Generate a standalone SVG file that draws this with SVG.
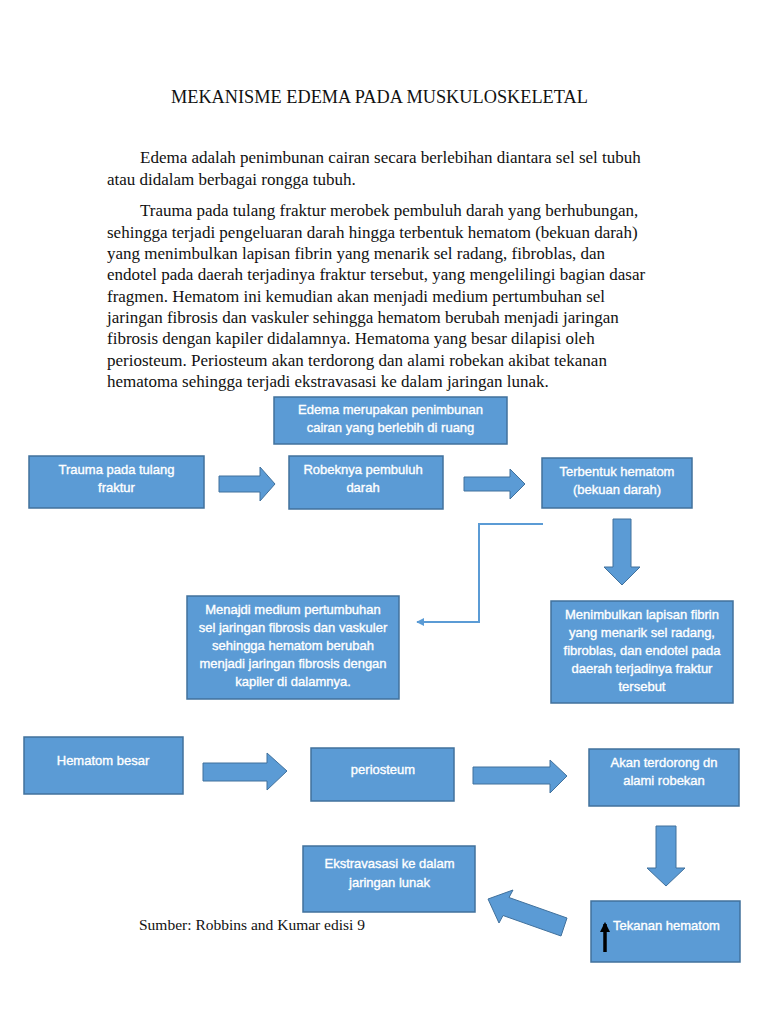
<svg xmlns="http://www.w3.org/2000/svg" width="768" height="1024" viewBox="0 0 768 1024">
<defs>
<style>
.doc{font-family:"Liberation Serif","Times New Roman",serif;font-size:17px;fill:#111}
.box{fill:#5b9bd5;stroke:#41719c;stroke-width:1.5}
.lbl{font-family:"Liberation Sans",Arial,sans-serif;font-size:13px;fill:#ffffff;stroke:#ffffff;stroke-width:0.35;text-anchor:middle}
.blk{fill:#5b9bd5;stroke:#41719c;stroke-width:1}
.elbow{fill:none;stroke:#5b9bd5;stroke-width:2}
</style>
<marker id="ah" viewBox="0 0 10 10" refX="9" refY="5" markerWidth="4" markerHeight="4" orient="auto">
<path d="M0,0 L10,5 L0,10 Z" fill="#5b9bd5"/>
</marker>
<marker id="bh" viewBox="0 0 10 10" refX="8" refY="5" markerWidth="3" markerHeight="3" orient="auto">
<path d="M0,0 L10,5 L0,10 Z" fill="#000"/>
</marker>
</defs>
<rect width="768" height="1024" fill="#ffffff"/>

<g id="document-text">
<text class="doc" x="171" y="103" style="font-size:18.3px">MEKANISME EDEMA PADA MUSKULOSKELETAL</text>
<text class="doc" x="140" y="163">Edema adalah penimbunan cairan secara berlebihan diantara sel sel tubuh</text>
<text class="doc" x="107" y="185">atau didalam berbagai rongga tubuh.</text>
<text class="doc" x="140" y="216">Trauma pada tulang fraktur merobek pembuluh darah yang berhubungan,</text>
<text class="doc" x="107" y="237.5">sehingga terjadi pengeluaran darah hingga terbentuk hematom (bekuan darah)</text>
<text class="doc" x="107" y="259">yang menimbulkan lapisan fibrin yang menarik sel radang, fibroblas, dan</text>
<text class="doc" x="107" y="280">endotel pada daerah terjadinya fraktur tersebut, yang mengelilingi bagian dasar</text>
<text class="doc" x="107" y="301.5">fragmen. Hematom ini kemudian akan menjadi medium pertumbuhan sel</text>
<text class="doc" x="107" y="323">jaringan fibrosis dan vaskuler sehingga hematom berubah menjadi jaringan</text>
<text class="doc" x="107" y="344">fibrosis dengan kapiler didalamnya. Hematoma yang besar dilapisi oleh</text>
<text class="doc" x="107" y="365.5">periosteum. Periosteum akan terdorong dan alami robekan akibat tekanan</text>
<text class="doc" x="107" y="387">hematoma sehingga terjadi ekstravasasi ke dalam jaringan lunak.</text>
<text class="doc" x="139" y="930" style="font-size:15.5px">Sumber: Robbins and Kumar edisi 9</text>
</g>

<g id="connectors">
<polygon class="blk" points="219,476 260,476 260,467 275,484 260,501 260,492 219,492"/>
<polygon class="blk" points="464,477 510,477 510,469 525,484 510,499 510,491 464,491"/>
<polygon class="blk" points="613,519 631,519 631,567 640,567 622,585 604,567 613,567"/>
<path class="elbow" d="M543,524 H479 V622 H417" marker-end="url(#ah)"/>
<polygon class="blk" points="203,763 267,763 267,753 287,771 267,790 267,781 203,781"/>
<polygon class="blk" points="473,767 550,767 550,760 567,776 550,793 550,784 473,784"/>
<polygon class="blk" points="656,826 676,826 676,868 685,868 666,886 647,868 656,868"/>
<polygon class="blk" points="488,899 513,890 509,897.5 567,918 561,936 503,915.5 499,923"/>
</g>

<g id="node-edema">
<rect class="box" x="274" y="397" width="233" height="47"/>
<text class="lbl" x="390.5" y="414">Edema merupakan penimbunan</text>
<text class="lbl" x="390.5" y="432">cairan yang berlebih di ruang</text>
</g>

<g id="node-trauma">
<rect class="box" x="29" y="456" width="175" height="52"/>
<text class="lbl" x="116.5" y="474">Trauma pada tulang</text>
<text class="lbl" x="116.5" y="492">fraktur</text>
</g>

<g id="node-robeknya">
<rect class="box" x="289" y="456" width="154" height="53"/>
<text class="lbl" x="363" y="474">Robeknya pembuluh</text>
<text class="lbl" x="363" y="492">darah</text>
</g>

<g id="node-terbentuk">
<rect class="box" x="542" y="458" width="150" height="50"/>
<text class="lbl" x="617" y="476">Terbentuk hematom</text>
<text class="lbl" x="617" y="494">(bekuan darah)</text>
</g>

<g id="node-menjadi">
<rect class="box" x="187" y="596" width="212" height="103"/>
<text class="lbl" x="293" y="614">Menajdi medium pertumbuhan</text>
<text class="lbl" x="293" y="632">sel jaringan fibrosis dan vaskuler</text>
<text class="lbl" x="293" y="650">sehingga hematom berubah</text>
<text class="lbl" x="293" y="668">menjadi jaringan fibrosis dengan</text>
<text class="lbl" x="293" y="686">kapiler di dalamnya.</text>
</g>

<g id="node-menimbulkan">
<rect class="box" x="551" y="601" width="182" height="102"/>
<text class="lbl" x="642" y="619">Menimbulkan lapisan fibrin</text>
<text class="lbl" x="642" y="637">yang menarik sel radang,</text>
<text class="lbl" x="642" y="655">fibroblas, dan endotel pada</text>
<text class="lbl" x="642" y="673">daerah terjadinya fraktur</text>
<text class="lbl" x="642" y="691">tersebut</text>
</g>

<g id="node-hematom-besar">
<rect class="box" x="24" y="737" width="159" height="57"/>
<text class="lbl" x="103" y="765">Hematom besar</text>
</g>

<g id="node-periosteum">
<rect class="box" x="311" y="748" width="143" height="53"/>
<text class="lbl" x="383" y="774">periosteum</text>
</g>

<g id="node-akan">
<rect class="box" x="589" y="749" width="150" height="57"/>
<text class="lbl" x="664" y="767">Akan terdorong dn</text>
<text class="lbl" x="664" y="785">alami robekan</text>
</g>

<g id="node-ekstravasasi">
<rect class="box" x="303" y="846" width="172" height="66"/>
<text class="lbl" x="389.5" y="868">Ekstravasasi ke dalam</text>
<text class="lbl" x="389.5" y="887">jaringan lunak</text>
</g>

<g id="node-tekanan">
<rect class="box" x="591" y="901" width="149" height="61"/>
<path d="M605,952 V924" stroke="#000" stroke-width="3.5" marker-end="url(#bh)"/>
<text class="lbl" x="613" y="930" style="text-anchor:start">Tekanan hematom</text>
</g>
</svg>
